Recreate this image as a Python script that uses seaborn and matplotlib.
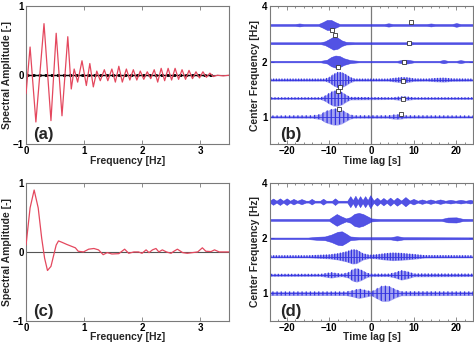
import matplotlib
matplotlib.use('Agg')
import matplotlib.pyplot as plt
from matplotlib.ticker import MultipleLocator, NullLocator
import numpy as np
import pandas as pd
import seaborn as sns

sns.set_style('ticks')
plt.rcParams['font.family'] = ['Liberation Sans', 'DejaVu Sans']
plt.rcParams['font.weight'] = 'bold'
plt.rcParams['axes.labelweight'] = 'bold'
plt.rcParams['hatch.linewidth'] = 0.9

# (a) spectrum, read at the turning points of the curve
freq_a = [0, 0.07, 0.17, 0.31, 0.43, 0.52, 0.62, 0.72, 0.78, 0.83, 0.89, 0.965, 1.04, 1.1, 1.16,
          1.22, 1.28, 1.35, 1.41, 1.48, 1.54, 1.6, 1.66, 1.73, 1.79, 1.85, 1.91, 1.97, 2.03, 2.09,
          2.15, 2.21, 2.27, 2.33, 2.39, 2.45, 2.51, 2.57, 2.63, 2.69, 2.75, 2.81, 2.87, 2.93, 2.99,
          3.05, 3.11, 3.17, 3.23, 3.3, 3.4, 3.5]
amp_a = [-0.27, 0.41, -0.68, 0.75, -0.66, 0.61, -0.59, 0.56, -0.2, 0.09, -0.1, 0.21, -0.15, 0.17, -0.17,
         0.06, -0.08, 0.08, -0.08, 0.09, -0.1, 0.13, -0.1, 0.09, -0.07, 0.08, -0.07, 0.06, -0.06, 0.05,
         -0.05, 0.08, -0.1, 0.1, -0.08, 0.1, -0.07, 0.1, -0.06, 0.08, -0.06, 0.07, -0.05, 0.05, -0.04,
         0.05, -0.03, 0.03, -0.02, 0.0, -0.01, 0.0]

# (c) spectrum
freq_c = [0, 0.07, 0.14, 0.21, 0.27, 0.32, 0.37, 0.43, 0.485, 0.52, 0.56, 0.62, 0.7, 0.79, 0.85, 0.9,
          0.99, 1.08, 1.17, 1.25, 1.33, 1.4, 1.48, 1.6, 1.7, 1.77, 1.86, 1.94, 2.0, 2.07, 2.12, 2.18,
          2.24, 2.29, 2.35, 2.42, 2.5, 2.55, 2.61, 2.7, 2.78, 2.87, 2.96, 3.04, 3.1, 3.19, 3.25, 3.33, 3.5]
amp_c = [0.1, 0.64, 0.9, 0.64, 0.2, -0.09, -0.27, -0.21, -0.02, 0.1, 0.16, 0.14, 0.11, 0.08, 0.06, 0.01,
         0.0, 0.04, 0.05, 0.03, -0.04, -0.01, -0.03, -0.025, 0.04, -0.02, 0.0, 0.0, -0.02, 0.03, -0.01, 0.03,
         0.05, 0.0, 0.03, 0.0, -0.02, 0.01, 0.04, -0.01, -0.02, -0.01, 0.0, 0.06, 0.01, 0.005, 0.03, 0.0, 0.0]

zero_a_freq = [0, 3.2]

# wavelet traces: centre frequency [Hz] and (time lag [s], half height in trace spacings)
center_freqs = [1.0, 1.26, 1.59, 2.0, 2.52, 3.17]
# low frequency traces show single wiggles, high ones look like a solid band
wiggle_hatch = ['||||', '|||||', '||||||', None, None, None]

b_100 = [(-24, .07), (-14, .08), (-12, .15), (-11, .3), (-10, .38), (-9, .45), (-8, .45), (-7, .38),
         (-6, .25), (-5, .12), (-4, .08), (4, .08), (5, .12), (6, .14), (7, .12), (8, .08), (24, .07)]
b_126 = [(-24, .06), (-12, .06), (-11, .15), (-10, .3), (-9, .42), (-8, .43), (-7, .35), (-6, .2),
         (-5, .08), (5, .06), (6.5, .1), (7.5, .12), (8.5, .1), (10, .06), (24, .06)]
b_159 = [(-24, .07), (-11, .07), (-10, .15), (-9, .32), (-8, .43), (-7, .42), (-6, .3), (-5, .15),
         (-4, .07), (4, .07), (5, .1), (7, .15), (8.5, .14), (10, .08), (13, .07), (15, .1), (17, .12),
         (19, .08), (24, .07)]
b_200 = [(-24, .04), (-12, .04), (-10.5, .1), (-9.5, .25), (-8.5, .33), (-7.5, .3), (-6.5, .18),
         (-5, .08), (-3, .04), (6, .04), (7.5, .1), (8.5, .1), (10, .04), (16, .04), (17, .09), (18, .04),
         (20, .04), (21, .08), (22, .04), (24, .04)]
b_252 = [(-24, .05), (-12, .05), (-11, .1), (-10, .22), (-9, .35), (-8, .3), (-7, .15), (-6, .07),
         (-4, .05), (8, .05), (9, .08), (10, .05), (24, .05)]
b_317 = [(-24, .05), (-18, .05), (-17, .08), (-16, .05), (-12.5, .05), (-11.5, .15), (-10.5, .27),
         (-9.5, .27), (-8.5, .15), (-7.5, .05), (3, .05), (4, .09), (5, .05), (13, .05), (14, .08),
         (15, .05), (19, .05), (20, .1), (21, .05), (24, .05)]

d_100 = [(-24, .11), (-6, .11), (-4.5, .18), (-3, .27), (-1.5, .2), (0, .12), (1, .25), (2.5, .43),
         (4, .42), (5.5, .25), (7, .12), (24, .11)]
d_126 = [(-24, .07), (-12, .07), (-10.5, .12), (-9.5, .16), (-8.5, .12), (-7, .08), (-5.5, .15),
         (-4.5, .32), (-3.5, .38), (-2.5, .3), (-1, .12), (0, .08), (4, .08), (5.5, .15), (7, .27),
         (8.5, .2), (10, .09), (24, .08)]
d_159 = [(-24, .07), (-15, .07), (-12, .1), (-10, .12), (-8, .18), (-6, .28), (-4.5, .4), (-3.5, .38),
         (-2, .18), (-0.5, .1), (1, .12), (3, .18), (5, .22), (7, .2), (10, .14), (12.5, .08), (24, .07)]
d_200 = [(-24, .04), (-15, .04), (-13, .08), (-11, .1), (-9.5, .2), (-8, .35), (-7, .38), (-6, .25),
         (-5, .1), (-3, .06), (0, .06), (4.5, .06), (6, .12), (7.5, .06), (24, .05)]
d_252 = [(-24, .05), (-10, .05), (-9, .2), (-8.2, .32), (-7.2, .2), (-6, .08), (-5, .15), (-4, .33),
         (-3, .38), (-2, .32), (-1, .2), (0, .08), (2, .05), (16.5, .05), (18, .13), (20, .14),
         (21.5, .06), (24, .05)]
d_317 = [(-24, .05), (-23.2, .17), (-22.4, .05), (-21.6, .18), (-20.8, .05), (-20, .18), (-19.2, .05),
         (-18.4, .15), (-17.5, .05), (-16.5, .14), (-15.5, .05), (-14.8, .05), (-14.1, .15), (-13.4, .05),
         (-12.1, .05), (-11.4, .16), (-10.7, .05), (-9.3, .05), (-8.6, .18), (-7.9, .05), (-5.7, .05),
         (-5, .3), (-4.4, .08), (-3.8, .32), (-3.25, .08), (-2.7, .3), (-2.1, .08), (-1.5, .3),
         (-0.9, .08), (-0.3, .35), (0.5, .06), (1.3, .22), (2.05, .06), (2.8, .2), (3.6, .06), (4.4, .22),
         (5.2, .06), (6, .22), (7, .06), (8, .25), (9, .06), (9.9, .15), (10.9, .05), (11.9, .12),
         (12.9, .05), (13.9, .12), (15, .05), (16.2, .12), (17.4, .05), (18.6, .1), (19.8, .05), (21, .1),
         (22.2, .05), (23.3, .1), (24, .05)]

traces_b = [b_100, b_126, b_159, b_200, b_252, b_317]
traces_d = [d_100, d_126, d_159, d_200, d_252, d_317]

# squares in (b)
sq_left_lag = [-9.4, -8.6, -8.0, -7.5, -7.8, -7.7]
sq_left_freq = [2.97, 2.81, 1.88, 1.45, 1.39, 1.10]
sq_right_lag = [9.4, 8.9, 7.6, 7.5, 7.5, 6.9]
sq_right_freq = [3.29, 2.53, 1.99, 1.56, 1.25, 1.03]

red = '#e4485e'
blue = '#3434e0'
grey = '#7a7a7a'

fig = plt.figure(figsize=(4.74, 3.5), dpi=100)
ax_a = fig.add_axes([0.0549, 0.5886, 0.4283, 0.393])
ax_b = fig.add_axes([0.569, 0.5886, 0.4295, 0.393])
ax_c = fig.add_axes([0.0549, 0.0837, 0.4283, 0.393])
ax_d = fig.add_axes([0.569, 0.0837, 0.4295, 0.393])


def style(ax):
    for s in ax.spines.values():
        s.set_color(grey)
        s.set_linewidth(0.8)
    ax.tick_params(which='both', direction='in', color=grey, width=0.6, top=True, right=True,
                   labelsize=7, pad=1.5, labelcolor='black')
    ax.tick_params(which='major', length=3)
    ax.tick_params(which='minor', length=1.5)


# spectra
for ax, f, a, lab in [(ax_a, freq_a, amp_a, '(a)'), (ax_c, freq_c, amp_c, '(c)')]:
    ax.axhline(0, color='#555555', lw=0.8, zorder=1)
    sns.lineplot(x=f, y=a, ax=ax, color=red, lw=0.9, zorder=3)
    ax.set_xlim(0, 3.5)
    ax.set_ylim(-1, 1)
    ax.set_xticks([0, 1, 2, 3])
    ax.set_yticks([-1, 0, 1])
    ax.set_xlabel('Frequency [Hz]', fontsize=7.5)
    ax.set_ylabel('Spectral Amplitude [-]', fontsize=7.5)
    ax.xaxis.set_label_coords(0.5, -0.085)
    ax.yaxis.set_label_coords(-0.07, 0.5)
    ax.text(0.035, 0.035, lab, transform=ax.transAxes, fontsize=12, fontweight='bold')
    style(ax)

# black dotted zero line in (a)
ax_a.plot(zero_a_freq, [0, 0], color='black', lw=1.0, zorder=2)
ax_a.plot(zero_a_freq, [0, 0], color='black', lw=2.0, ls=(0, (1, 1.2)), zorder=2)

# wavelet traces
for ax, traces, lab in [(ax_b, traces_b, '(b)'), (ax_d, traces_d, '(d)')]:
    ax.set_yscale('log', base=2)
    for c, tr, h in zip(center_freqs, traces, wiggle_hatch):
        df = pd.DataFrame(tr, columns=['lag', 'amp'])
        lo = c * 2 ** (-df['amp'] / 3)
        hi = c * 2 ** (df['amp'] / 3)
        if h is None:
            ax.fill_between(df['lag'], lo, hi, color=blue, alpha=0.85, lw=0.4, zorder=2)
        else:
            ax.fill_between(df['lag'], lo, hi, color=blue, alpha=0.45, lw=0, zorder=2)
            ax.fill_between(df['lag'], lo, hi, facecolor='none', edgecolor=blue, hatch=h, lw=0,
                            zorder=2)
            ax.plot(df['lag'], [c] * len(df), color=blue, lw=0.6, zorder=2)
    ax.axvline(0, color=grey, lw=0.9, zorder=1)
    ax.set_xlim(-24, 24)
    ax.set_ylim(0.71, 4)
    ax.set_xticks([-20, -10, 0, 10, 20])
    ax.xaxis.set_minor_locator(MultipleLocator(2))
    ax.set_yticks([1, 2, 4])
    ax.set_yticklabels(['1', '2', '4'])
    ax.yaxis.set_minor_locator(NullLocator())
    ax.set_xlabel('Time lag [s]', fontsize=7.5)
    ax.set_ylabel('Center Frequency [Hz]', fontsize=7.5)
    ax.xaxis.set_label_coords(0.5, -0.085)
    ax.yaxis.set_label_coords(-0.05, 0.5)
    ax.text(0.05, 0.035, lab, transform=ax.transAxes, fontsize=12, fontweight='bold')
    style(ax)

ax_b.plot(sq_left_lag, sq_left_freq, ls='none', marker='s', ms=3.2, mfc='white', mec='#333333',
          mew=0.6, zorder=4)
ax_b.plot(sq_right_lag, sq_right_freq, ls='none', marker='s', ms=3.2, mfc='white', mec='#333333',
          mew=0.6, zorder=4)

plt.savefig('out.png', dpi=100)
